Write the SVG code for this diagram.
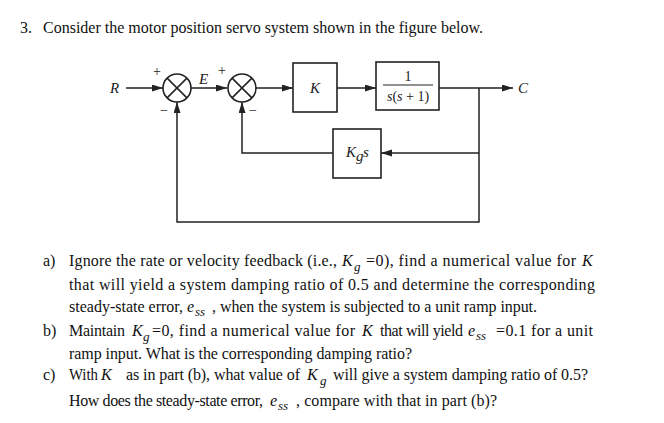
<svg xmlns="http://www.w3.org/2000/svg" width="664" height="423" viewBox="0 0 664 423">
<style>
.t{font-family:"Liberation Serif","Times New Roman",serif;font-size:16px;fill:#111}
.i{font-style:italic}
.sub{font-family:"Liberation Serif","Times New Roman",serif;font-size:13px;font-style:italic;fill:#111}
.d{font-family:"Liberation Serif","Times New Roman",serif;font-size:15px;font-style:italic;fill:#222}
.dn{font-family:"Liberation Serif","Times New Roman",serif;font-size:14px;fill:#222}
.ln{fill:none;stroke:#222;stroke-width:1.5}
.box{fill:#fff;stroke:#222;stroke-width:1.6}
</style>
<defs>
<marker id="ah" markerUnits="userSpaceOnUse" markerWidth="12" markerHeight="8" refX="11" refY="3.5" orient="auto">
<path d="M0,0 L11,3.5 L0,7 z" fill="#222"/>
</marker>
</defs>
<rect width="664" height="423" fill="#fff"/>
<text class="t" x="20" y="33">3.</text>
<text class="t" x="43" y="33" textLength="440" lengthAdjust="spacing">Consider the motor position servo system shown in the figure below.</text>

<g id="connectors">
<line class="ln" x1="126" y1="88" x2="163" y2="88" marker-end="url(#ah)"/>
<line class="ln" x1="191" y1="88" x2="227" y2="88" marker-end="url(#ah)"/>
<line class="ln" x1="256" y1="88" x2="293" y2="88" marker-end="url(#ah)"/>
<line class="ln" x1="337" y1="88" x2="376" y2="88" marker-end="url(#ah)"/>
<line class="ln" x1="439" y1="88" x2="513" y2="88" marker-end="url(#ah)"/>
<polyline class="ln" points="479,88 479,222 177,222 177,102" marker-end="url(#ah)"/>
<line class="ln" x1="479" y1="153" x2="381" y2="153" marker-end="url(#ah)"/>
<polyline class="ln" points="333,153 242,153 242,102" marker-end="url(#ah)"/>
</g>

<g id="R"><text class="d" x="110" y="93">R</text></g>
<g id="sum1">
<circle class="box" cx="177" cy="88" r="14"/>
<path class="ln" d="M167.1,78.1 L186.9,97.9 M186.9,78.1 L167.1,97.9"/>
<text class="dn" x="153" y="76">+</text>
<text class="dn" x="160" y="115">−</text>
</g>
<g id="E"><text class="d" x="199" y="84">E</text></g>
<g id="sum2">
<circle class="box" cx="242" cy="88" r="14"/>
<path class="ln" d="M232.1,78.1 L251.9,97.9 M251.9,78.1 L232.1,97.9"/>
<text class="dn" x="218" y="75">+</text>
<text class="dn" x="249" y="115">−</text>
</g>
<g id="K">
<rect class="box" x="293" y="63" width="44" height="49"/>
<text class="d" x="315" y="93" text-anchor="middle">K</text>
</g>
<g id="G">
<rect class="box" x="376" y="62" width="63" height="48"/>
<text class="dn" x="408" y="81" text-anchor="middle" font-size="13">1</text>
<line x1="383" y1="85" x2="433" y2="85" stroke="#222" stroke-width="1"/>
<text class="dn" x="408" y="101" text-anchor="middle" font-size="13"><tspan font-style="italic">s</tspan>(<tspan font-style="italic">s</tspan> + 1)</text>
</g>
<g id="C"><text class="d" x="518" y="93">C</text></g>
<g id="Kgs">
<rect class="box" x="333" y="129" width="48" height="49"/>
<text class="d" x="346" y="157">K</text>
<text class="d" x="356" y="161" font-size="11">g</text>
<text class="d" x="363" y="157">s</text>
</g>

<g id="text">
<text class="t" x="43" y="266">a)</text>
<text class="t" x="69" y="266" textLength="268" lengthAdjust="spacing">Ignore the rate or velocity feedback (i.e.,</text>
<text class="t i" x="342" y="266">K</text>
<text class="sub" x="354" y="271">g</text>
<text class="t" x="366" y="266" textLength="210" lengthAdjust="spacing">=0), find a numerical value for</text>
<text class="t i" x="582" y="266">K</text>

<text class="t" x="69" y="290" textLength="526" lengthAdjust="spacing">that will yield a system damping ratio of 0.5 and determine the corresponding</text>

<text class="t" x="69" y="312" textLength="114" lengthAdjust="spacing">steady-state error,</text>
<text class="t i" x="187" y="312">e</text>
<text class="sub" x="195" y="316">ss</text>
<text class="t" x="212" y="312" textLength="325" lengthAdjust="spacing">, when the system is subjected to a unit ramp input.</text>

<text class="t" x="43" y="336">b)</text>
<text class="t" x="69" y="336" textLength="56" lengthAdjust="spacing">Maintain</text>
<text class="t i" x="132" y="336">K</text>
<text class="sub" x="143" y="341">g</text>
<text class="t" x="152" y="336" textLength="203" lengthAdjust="spacing">=0, find a numerical value for</text>
<text class="t i" x="362" y="336">K</text>
<text class="t" x="380" y="336" textLength="83" lengthAdjust="spacing">that will yield</text>
<text class="t i" x="468" y="336">e</text>
<text class="sub" x="476" y="340">ss</text>
<text class="t" x="496" y="336" textLength="97" lengthAdjust="spacing">=0.1 for a unit</text>

<text class="t" x="69" y="359" textLength="343" lengthAdjust="spacing">ramp input. What is the corresponding damping ratio?</text>

<text class="t" x="43" y="380">c)</text>
<text class="t" x="69" y="380" textLength="29" lengthAdjust="spacingAndGlyphs">With</text>
<text class="t i" x="101" y="380">K</text>
<text class="t" x="126" y="380" textLength="174" lengthAdjust="spacing">as in part (b), what value of</text>
<text class="t i" x="307" y="380">K</text>
<text class="sub" x="320" y="385">g</text>
<text class="t" x="333" y="380" textLength="255" lengthAdjust="spacing">will give a system damping ratio of 0.5?</text>

<text class="t" x="69" y="406" textLength="194" lengthAdjust="spacing">How does the steady-state error,</text>
<text class="t i" x="270" y="406">e</text>
<text class="sub" x="278" y="410">ss</text>
<text class="t" x="296" y="406" textLength="201" lengthAdjust="spacing">, compare with that in part (b)?</text>
</g>
</svg>
